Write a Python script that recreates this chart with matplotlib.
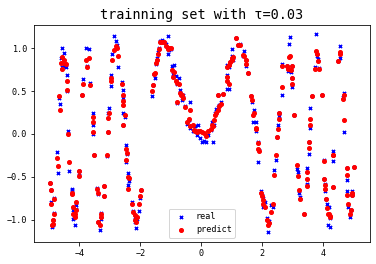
import matplotlib
matplotlib.use('Agg')
import matplotlib.pyplot as plt

# points: (x, real, predict)
x_vals = [-4.98, -4.94, -4.92, -4.82, -4.85, -4.87, -4.86, -4.90, -4.72, -4.71,
          -4.66, -4.65, -4.56, -4.49, -4.60, -4.51, -4.58, -4.43, -4.42, -4.41,
          -4.36, -4.33, -4.26, -4.25, -4.22, -4.21, -4.16, -4.13, -4.10, -4.10,
          -4.02, -4.02, -3.90, -3.89, -3.78, -3.70, -3.74, -3.64, -3.57, -3.57,
          -3.56, -3.51, -3.43, -3.40, -3.38, -3.34, -3.28, -3.28, -3.21, -3.18,
          -3.10, -3.07, -3.05, -3.03, -2.96, -2.96, -2.92, -2.85, -2.80, -2.75,
          -2.77, -2.61, -2.56, -2.58, -2.56, -2.52, -2.56, -2.46, -2.45, -2.48,
          -2.41, -2.39, -2.41, -2.26, -2.23, -2.19, -2.17, -2.16, -2.12, -2.03,
          -2.01, -1.98, -1.62, -1.59, -1.57, -1.52, -1.48, -1.46, -1.43, -1.40,
          -1.35, -1.28, -1.21, -1.16, -1.08, -1.10, -1.05, -1.00, -0.97, -0.89,
          -0.92, -0.83, -0.75, -0.80, -0.70, -0.66, -0.61, -0.81, -0.64, -0.55,
          -0.37, -0.48, -0.42, -0.39, -0.29, -0.21, -0.24, -0.15, -0.10, -0.06,
          0.01, 0.09, 0.15, 0.23, 0.31, 0.37, 0.35, 0.42, 0.45, 0.48,
          0.53, 0.59, 0.64, 0.56, 0.70, 0.83, 0.89, 0.83, 0.85, 0.91,
          0.94, 1.00, 1.03, 1.02, 1.14, 1.21, 1.27, 1.35, 1.41, 1.47,
          1.46, 1.54, 1.62, 1.65, 1.71, 1.69, 1.80, 1.79, 1.85, 1.87,
          1.89, 1.96, 1.98, 2.01, 2.03, 2.07, 2.14, 2.18, 2.22, 2.36,
          2.29, 2.37, 2.45, 2.49, 2.52, 2.53, 2.56, 2.66, 2.66, 2.92,
          2.87, 2.82, 2.85, 2.94, 2.96, 2.98, 2.98, 3.05, 3.15, 3.18,
          3.21, 3.24, 3.38, 3.45, 3.48, 3.48, 3.54, 3.54, 3.57, 3.57,
          3.64, 3.77, 3.79, 3.84, 3.71, 3.87, 3.94, 4.03, 4.02, 4.06,
          4.07, 4.09, 4.13, 4.18, 4.22, 4.14, 4.23, 4.33, 4.33, 4.30,
          4.56, 4.56, 4.49, 4.68, 4.66, 4.69, 4.76, 4.76, 5.02, 4.79,
          4.82, 4.88, 4.91, 4.94, 4.95]
y_real = [-0.57, -0.66, -0.80, -0.75, -0.92, -1.01, -1.07, -1.09, -0.21, -0.46,
          0.42, 0.35, 1.01, 0.95, 0.89, 0.80, 0.78, 0.78, 0.69, 0.50,
          0.04, -0.43, -0.66, -0.64, -0.89, -0.99, -0.95, -1.06, -0.83, -0.88,
          -0.43, -0.48, 0.45, 0.64, 1.00, 0.99, 0.79, 0.60, 0.25, 0.11,
          0.00, -0.25, -0.63, -0.70, -1.03, -1.12, -0.92, -0.99, -0.72, -0.61,
          -0.26, 0.02, 0.24, 0.30, 0.69, 0.56, 0.94, 1.15, 1.09, 0.78,
          1.04, 0.61, 0.51, 0.42, 0.24, 0.20, 0.11, -0.13, -0.23, -0.33,
          -0.46, -0.55, -0.60, -0.80, -0.90, -0.97, -1.03, -1.10, -0.99, -0.90,
          -0.75, -0.66, 0.44, 0.57, 0.70, 0.65, 0.82, 0.89, 0.96, 1.01,
          1.09, 1.10, 1.07, 1.05, 1.15, 0.94, 0.98, 0.99, 0.79, 0.81,
          0.70, 0.68, 0.66, 0.58, 0.51, 0.47, 0.45, 0.36, 0.40, 0.33,
          0.37, 0.12, 0.16, 0.07, 0.03, 0.09, 0.035, -0.01, 0.11, -0.05,
          -0.09, -0.08, -0.09, -0.01, 0.05, -0.09, 0.14, 0.11, 0.25, 0.29,
          0.32, 0.34, 0.37, 0.46, 0.47, 0.53, 0.53, 0.69, 0.81, 0.78,
          0.84, 0.91, 0.87, 0.99, 1.12, 1.04, 1.05, 0.91, 0.97, 0.87,
          0.80, 0.71, 0.44, 0.37, 0.28, 0.14, 0.14, 0.04, -0.09, -0.33,
          -0.19, -0.67, -0.71, -0.75, -0.85, -0.80, -0.98, -1.15, -1.02, -0.85,
          -0.83, -0.42, -0.30, -0.04, 0.11, 0.24, 0.21, 0.45, 0.82, 1.13,
          1.05, 0.80, 0.74, 0.73, 0.79, 0.66, 0.55, 0.22, -0.41, -0.44,
          -0.69, -0.74, -0.94, -0.58, -0.40, -0.60, -0.23, -0.09, 0.07, 0.30,
          0.44, 1.17, 0.91, 0.88, 0.78, 0.77, 0.45, -0.30, -0.53, -0.58,
          -0.67, -0.76, -0.82, -0.85, -0.98, -1.06, -1.09, -0.20, -0.32, -0.62,
          1.03, 0.89, 0.85, 0.48, 0.43, 0.02, -0.40, -0.54, -0.39, -0.67,
          -0.85, -0.97, -0.89, -0.67, -0.71]
y_pred = [-0.57, -0.65, -0.82, -0.76, -0.94, -1.00, -1.05, -1.06, -0.28, -0.38,
          0.44, 0.28, 0.90, 0.87, 0.83, 0.83, 0.76, 0.82, 0.62, 0.52,
          0.00, -0.33, -0.69, -0.70, -0.85, -0.94, -0.94, -0.97, -0.80, -0.89,
          -0.43, -0.49, 0.46, 0.59, 0.86, 0.89, 0.78, 0.57, 0.20, 0.14,
          0.02, -0.25, -0.64, -0.69, -1.03, -1.06, -0.94, -0.97, -0.73, -0.61,
          -0.24, 0.02, 0.19, 0.25, 0.65, 0.62, 0.86, 0.98, 1.03, 0.91,
          1.01, 0.58, 0.46, 0.38, 0.34, 0.22, 0.11, -0.18, -0.22, -0.30,
          -0.50, -0.52, -0.64, -0.82, -0.91, -0.95, -1.00, -1.03, -0.97, -0.82,
          -0.72, -0.66, 0.50, 0.57, 0.70, 0.71, 0.83, 0.87, 0.94, 0.99,
          1.08, 1.08, 1.07, 1.03, 1.01, 0.99, 1.00, 1.01, 0.75, 0.72,
          0.67, 0.62, 0.59, 0.60, 0.48, 0.45, 0.42, 0.37, 0.45, 0.31,
          0.28, 0.14, 0.17, 0.09, 0.10, 0.04, 0.047, 0.02, 0.03, 0.035,
          0.02, 0.01, -0.02, 0.03, 0.055, 0.09, 0.10, 0.16, 0.22, 0.25,
          0.28, 0.33, 0.35, 0.46, 0.47, 0.62, 0.58, 0.67, 0.78, 0.81,
          0.84, 0.87, 0.90, 0.89, 1.12, 1.04, 1.04, 0.92, 0.91, 0.87,
          0.82, 0.71, 0.44, 0.40, 0.25, 0.22, 0.07, 0.055, -0.11, -0.17,
          -0.20, -0.69, -0.73, -0.77, -0.82, -0.85, -1.01, -1.06, -1.04, -0.82,
          -0.91, -0.48, -0.25, -0.04, 0.06, 0.17, 0.25, 0.55, 0.79, 0.91,
          0.90, 0.80, 0.76, 0.75, 0.79, 0.66, 0.59, 0.22, -0.36, -0.49,
          -0.66, -0.76, -0.94, -0.61, -0.44, -0.53, -0.16, -0.09, 0.10, 0.18,
          0.44, 0.97, 0.94, 0.85, 0.76, 0.76, 0.45, -0.32, -0.53, -0.60,
          -0.64, -0.76, -0.86, -0.93, -0.96, -0.94, -0.97, -0.25, -0.25, -0.62,
          0.96, 0.94, 0.85, 0.45, 0.41, 0.16, -0.40, -0.48, -0.39, -0.71,
          -0.82, -0.94, -0.89, -0.69, -0.71]

plt.rcParams['font.family'] = ['DejaVu Sans Mono']

fig = plt.figure(figsize=(376 / 72, 264 / 72), dpi=72)
ax = fig.add_axes([34 / 376, 22 / 264, 335.7 / 376, 217.5 / 264])

ax.scatter(x_vals, y_real, marker='x', s=10, linewidths=1.6, color='blue', label='real', zorder=2)
ax.scatter(x_vals, y_pred, marker='o', s=16, color='red', label='predict', zorder=3)

ax.set_xlim(-5.49, 5.52)
ax.set_ylim(-1.263, 1.28)
ax.set_xticks([-4, -2, 0, 2, 4])
ax.set_yticks([-1.0, -0.5, 0.0, 0.5, 1.0])
ax.tick_params(labelsize=8.5)
ax.set_title('trainning set with τ=0.03', fontsize=13.5)
ax.legend(loc='lower center', fontsize=8.5)

fig.savefig('out.png', dpi=72)
